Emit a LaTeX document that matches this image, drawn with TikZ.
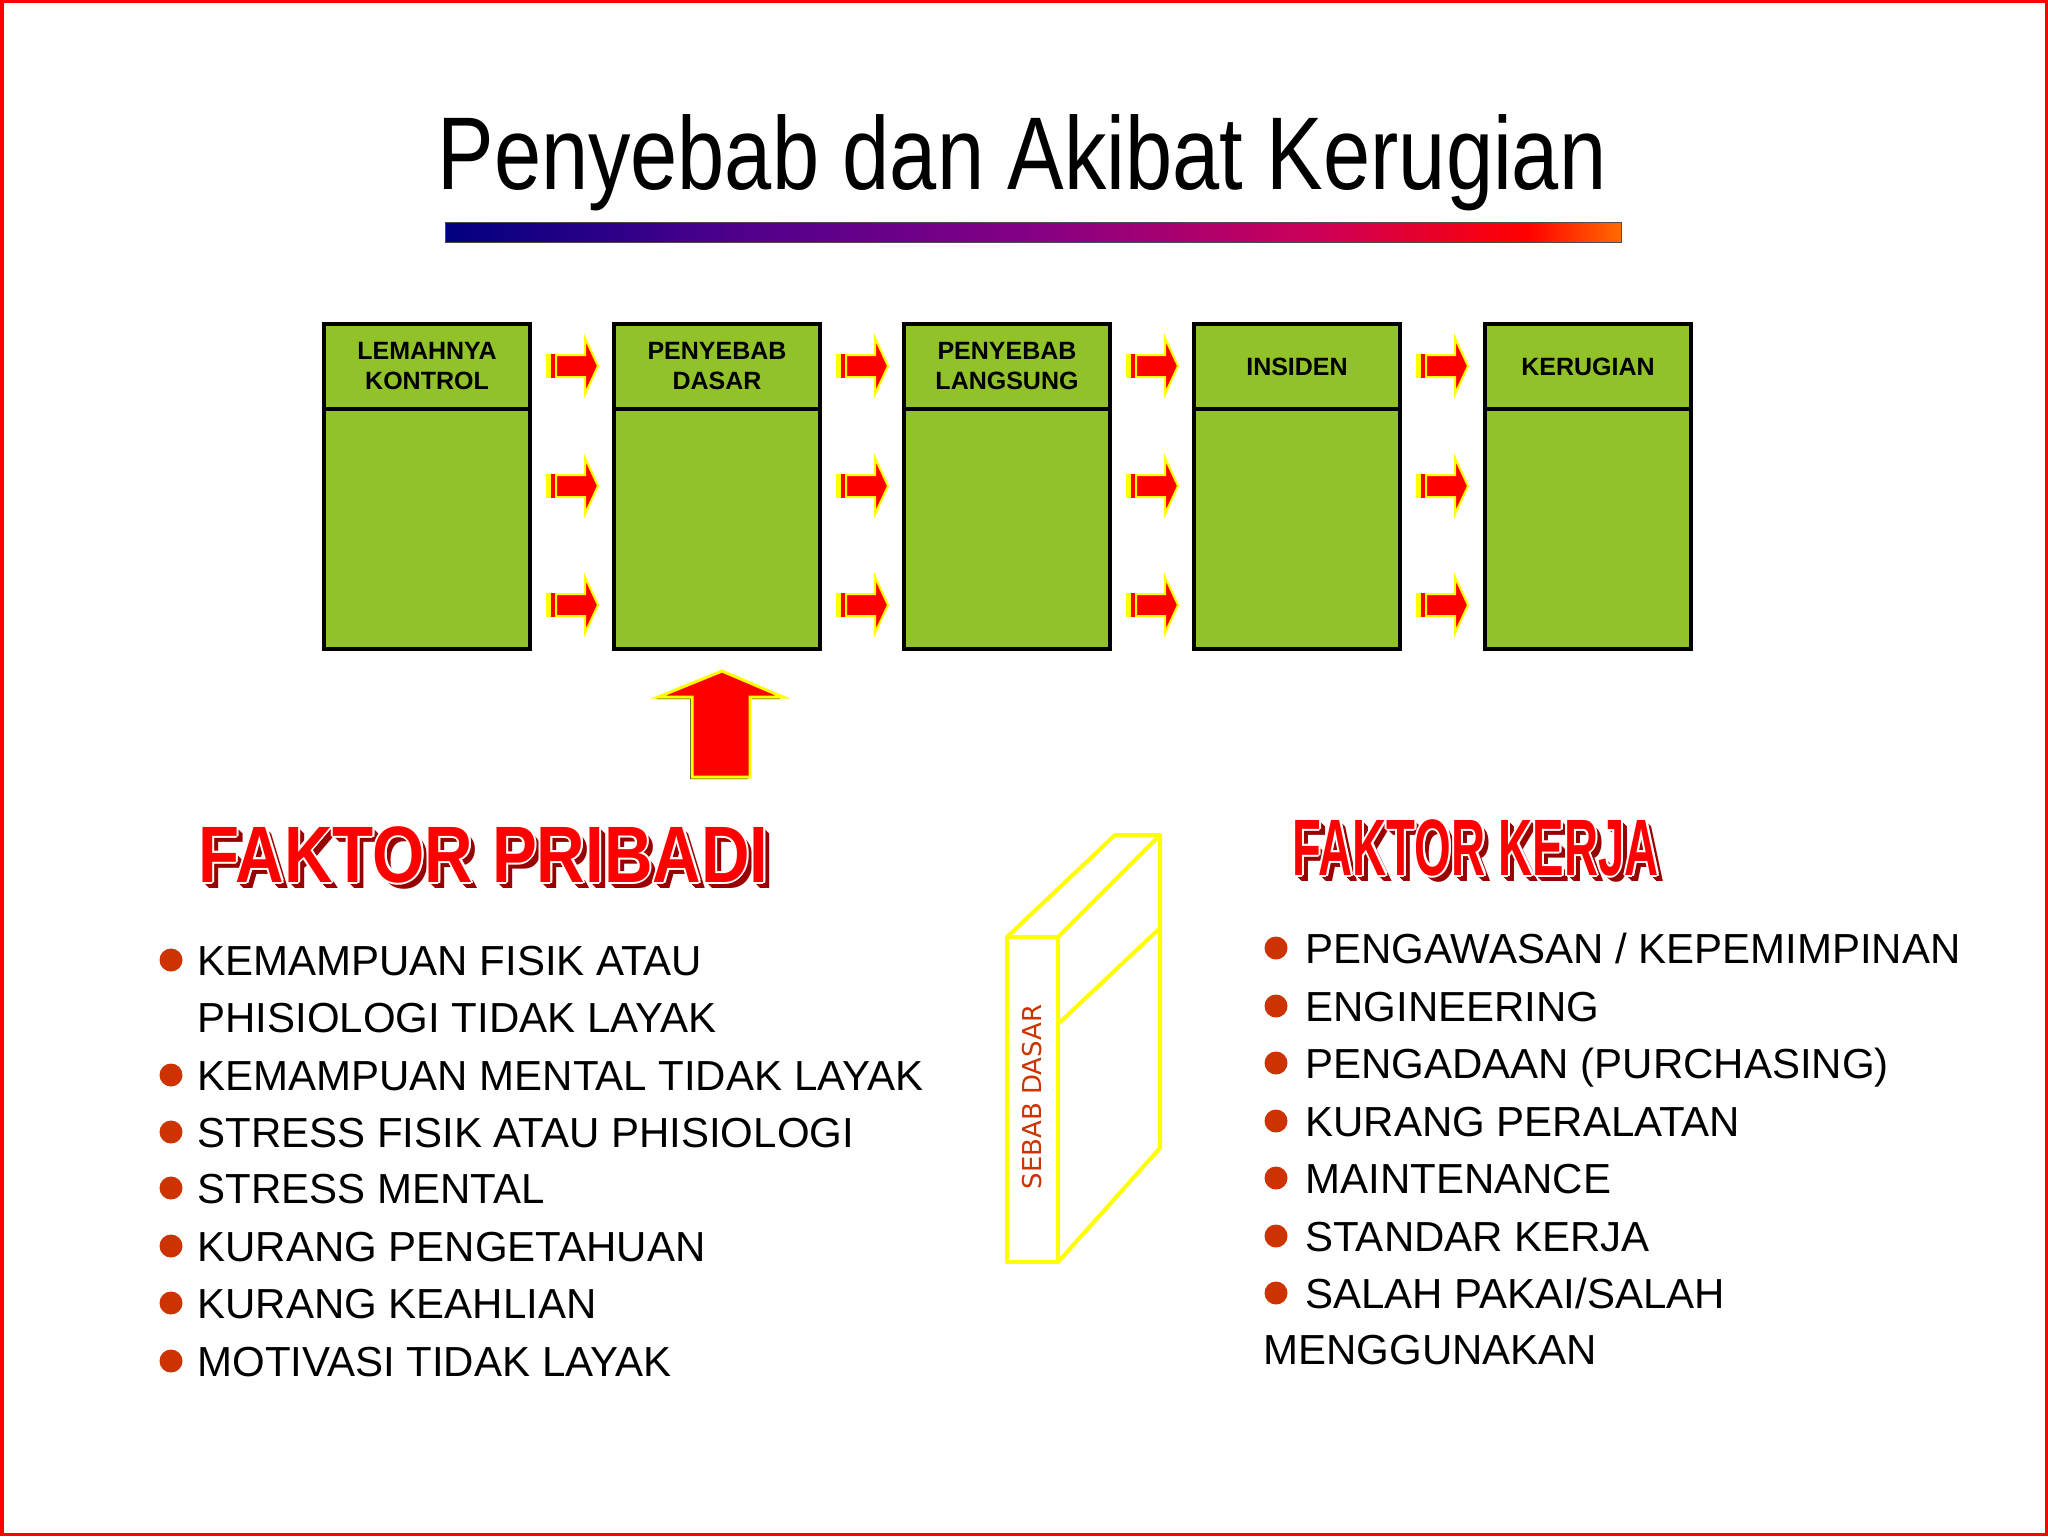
\documentclass[tikz,border=0pt]{standalone}
\usepackage{fontspec}
\usepackage{graphicx}
\setmainfont{Liberation Sans}
\newfontfamily\versfont{DejaVu Sans}

\definecolor{boxgreen}{RGB}{145,194,41}
\definecolor{arrred}{RGB}{255,0,0}
\definecolor{arryellow}{RGB}{255,255,0}
\definecolor{bulred}{RGB}{204,51,0}
\definecolor{shadowred}{RGB}{153,0,0}

\pgfdeclarehorizontalshading{titlebar}{100bp}{rgb(0bp)=(0,0,0.5); rgb(25bp)=(0,0,0.5); rgb(37bp)=(0.3,0,0.55); rgb(50bp)=(0.52,0,0.52); rgb(62bp)=(0.8,0,0.35); rgb(71bp)=(1,0,0); rgb(75bp)=(1,0.42,0); rgb(100bp)=(1,0.42,0)}

\newcommand\hdrfont{\bfseries\fontsize{12.5}{15}\selectfont}
\newcommand\faktorfont{\bfseries\fontsize{40}{40}\selectfont}

% one layer of the big red title, shifted by (#1,#2) pt
\newcommand\fklayer[5]{\rlap{\kern#1pt\raisebox{#2pt}{\color{#3}\scalebox{#4}[1]{#5}}}}
% big red title with extruded shadow and white rim
\newcommand\bigfaktor[5]{%
  \node[anchor=base west, inner sep=0pt, font=\faktorfont] (#1) at (#2,#3) {%
    \foreach \s in {0.5,1.0,...,3.0}{\fklayer{\s}{-\s}{shadowred}{#4}{#5}}%
    \foreach \dx/\dy in {-0.75/-0.75,0.75/-0.75,-0.75/0.75,0.75/0.75,0/1,0/-1,1/0,-1/0}{\fklayer{\dx}{\dy}{white}{#4}{#5}}%
    \textcolor{arrred}{\scalebox{#4}[1]{#5}}};
}

\tikzset{
  rarr/.pic={
    \fill[arryellow] (0,-12) rectangle (11,12);
    \fill[arrred] (5,-12) rectangle (8.5,12);
    \filldraw[fill=arrred, draw=arryellow, line width=1pt]
      (10,-11) -- (39,-11) -- (39,-28) -- (52,0) -- (39,28) -- (39,11) -- (10,11) -- cycle;
  },
  listtext/.style={anchor=base west, inner sep=0pt, font=\fontsize{21}{21}\selectfont},
  bulletdot/.style={circle, fill=bulred, minimum size=11.5pt, inner sep=0pt}
}

\begin{document}
\begin{tikzpicture}[x=0.5pt,y=-0.5pt]

      \useasboundingbox (0,0) rectangle (2048,1536);
      \fill[white] (0,0) rectangle (2048,1536);
      \draw[arrred, line width=1.75pt] (1.75,1.75) rectangle (2046.25,1534.25);

      \node[anchor=base] (title) at (1022,189)
        {\fontsize{51.7}{52}\selectfont\scalebox{0.82}[1]{Penyebab dan Akibat Kerugian}};
      \shadedraw[shading=titlebar, draw=black!70, line width=0.5pt] (445,222) rectangle (1621,242);

      \begin{scope}[every node/.style={draw, line width=2pt, fill=boxgreen, minimum width=103pt, inner sep=0pt}]
        \node[minimum height=120pt] (b1) at (427,529)  {};
        \node[minimum height=120pt] (b2) at (717,529)  {};
        \node[minimum height=120pt] (b3) at (1007,529) {};
        \node[minimum height=120pt] (b4) at (1297,529) {};
        \node[minimum height=120pt] (b5) at (1588,529) {};
        \node[minimum height=42.5pt, align=center, font=\hdrfont] (h1) at (427,366.5)  {LEMAHNYA\\KONTROL};
        \node[minimum height=42.5pt, align=center, font=\hdrfont] (h2) at (717,366.5)  {PENYEBAB\\DASAR};
        \node[minimum height=42.5pt, align=center, font=\hdrfont] (h3) at (1007,366.5) {PENYEBAB\\LANGSUNG};
        \node[minimum height=42.5pt, align=center, font=\hdrfont] (h4) at (1297,366.5) {INSIDEN};
        \node[minimum height=42.5pt, align=center, font=\hdrfont] (h5) at (1588,366.5) {KERUGIAN};
      \end{scope}

      \foreach \gx in {546,836,1126,1416}
        \foreach \gy in {366,486,605}
          \pic at (\gx,\gy) {rarr};

      % up arrow into PENYEBAB DASAR
      \fill[black!85, shift={(-2,2)}] (722,671) -- (783,697) -- (750,697) -- (750,777)
        -- (692,777) -- (692,697) -- (658,697) -- cycle;
      \filldraw[fill=arrred, draw=arryellow, line width=1.5pt] (722,671) -- (783,697) -- (750,697) -- (750,777)
        -- (692,777) -- (692,697) -- (658,697) -- cycle;

      \bigfaktor{pribadi}{198}{882}{0.84}{FAKTOR PRIBADI}
      \bigfaktor{kerja}{1292}{875}{0.59}{FAKTOR KERJA}

      \begin{scope}[every node/.style=listtext]
        \node (l1) at (197,975)  {KEMAMPUAN FISIK ATAU};
        \node (l2) at (197,1032) {PHISIOLOGI TIDAK LAYAK};
        \node (l3) at (197,1090) {KEMAMPUAN MENTAL TIDAK LAYAK};
        \node (l4) at (197,1147) {STRESS FISIK ATAU PHISIOLOGI};
        \node (l5) at (197,1203) {STRESS MENTAL};
        \node (l6) at (197,1261) {KURANG PENGETAHUAN};
        \node (l7) at (197,1318) {KURANG KEAHLIAN};
        \node (l8) at (197,1376) {MOTIVASI TIDAK LAYAK};
        \node (r1) at (1305,963)  {PENGAWASAN / KEPEMIMPINAN};
        \node (r2) at (1305,1021) {ENGINEERING};
        \node (r3) at (1305,1078) {PENGADAAN (PURCHASING)};
        \node (r4) at (1305,1136) {KURANG PERALATAN};
        \node (r5) at (1305,1193) {MAINTENANCE};
        \node (r6) at (1305,1251) {STANDAR KERJA};
        \node (r7) at (1305,1308) {SALAH PAKAI/SALAH};
        \node (r8) at (1263,1364) {MENGGUNAKAN};
      \end{scope}

      \foreach \y in {960,1075,1132,1188,1246,1303,1361}
        \node[bulletdot] at (171,\y) {};
      \foreach \y in {948,1006,1063,1121,1178,1236,1293}
        \node[bulletdot] at (1276,\y) {};

      % the book
      \begin{scope}[arryellow, line width=2pt, line join=round]
        \draw (1007,937) rectangle (1058,1262);
        \draw (1007,937) -- (1115,835) -- (1160,835) -- (1160,1148) -- (1058,1262);
        \draw (1058,937) -- (1160,835);
        \draw (1058,1024) -- (1160,928);
      \end{scope}
      \node[rotate=90, text=bulred, font=\versfont\fontsize{13}{13}\selectfont] (sebab) at (1032,1097) {SEBAB DASAR};

    \end{tikzpicture}
\end{document}
